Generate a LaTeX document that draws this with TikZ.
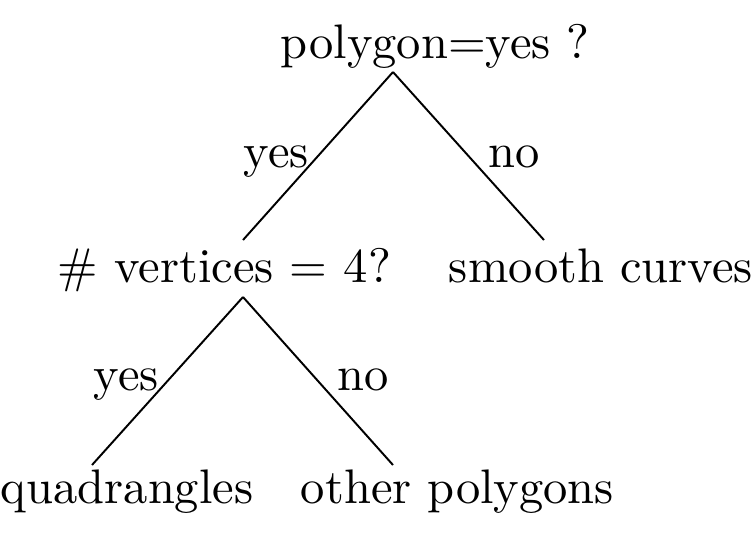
\documentclass[tikz,border=0pt]{standalone}
\begin{document}
\begin{tikzpicture}[x=0.2062pt, y=-0.2062pt]
                        \tikzset{txt/.style={inner sep=0pt, anchor=base west}}
                        \useasboundingbox (0, 0) rectangle (754, 555);
                        \node [txt] (root) at (280, 58){polygon=yes ?};
                        \coordinate (rootapex) at (393, 72);
                        \coordinate (yesend) at (243, 240);
                        \coordinate (noend) at (544, 240);
                        \draw (rootapex) -- (yesend);
                        \draw (rootapex) -- (noend);
                        \node [txt] (yesa) at (243, 167){yes};
                        \node [txt] (noa) at (488, 167){no};
                        \node [txt] (vert) at (57, 282){\# vertices = 4?};
                        \node [txt] (smooth) at (448, 282){smooth curves};
                        \coordinate (vertapex) at (243, 297);
                        \coordinate (quadend) at (92, 465);
                        \coordinate (otherend) at (393, 465);
                        \draw (vertapex) -- (quadend);
                        \draw (vertapex) -- (otherend);
                        \node [txt] (yesb) at (93, 390){yes};
                        \node [txt] (nob) at (337, 390){no};
                        \node [txt] (quad) at (0, 503){quadrangles};
                        \node [txt] (other) at (300, 503){other polygons};
                    \end{tikzpicture}
\end{document}
